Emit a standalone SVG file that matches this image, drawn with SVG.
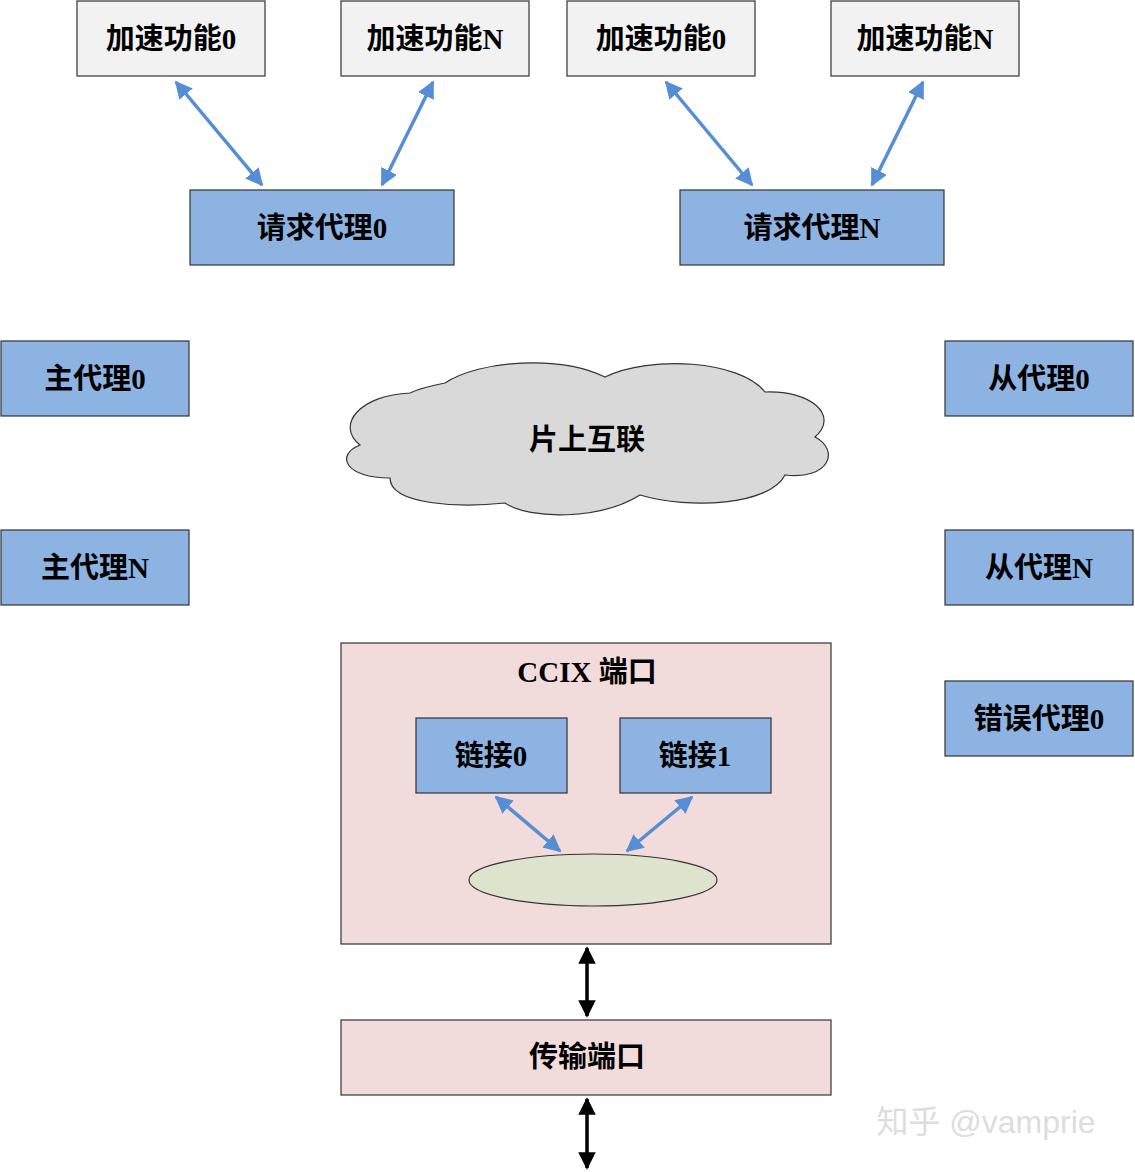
<svg xmlns="http://www.w3.org/2000/svg" width="1135" height="1172" viewBox="0 0 1135 1172">
<style>
.g{fill:#f2f2f2;stroke:#333;stroke-width:1.2}
.b{fill:#8db3e2;stroke:#333;stroke-width:1.2}
.p{fill:#f2dcdb;stroke:#333;stroke-width:1.2}
text{font-family:"Liberation Serif","Noto Sans CJK SC",serif;font-weight:bold;font-size:29px;fill:#000;text-anchor:middle;dominant-baseline:central}
.bl{stroke:#558ed5;stroke-width:3.5;fill:none;marker-start:url(#ab);marker-end:url(#ab)}
.bk{stroke:#000;stroke-width:3.5;fill:none;marker-start:url(#ak);marker-end:url(#ak)}
</style>
<defs>
<marker id="ab" viewBox="0 0 10 10" refX="9" refY="5" markerWidth="5" markerHeight="5" orient="auto-start-reverse"><path d="M0,0L10,5L0,10z" fill="#558ed5"/></marker>
<marker id="ak" viewBox="0 0 10 10" refX="9" refY="5" markerWidth="5" markerHeight="5" orient="auto-start-reverse"><path d="M0,0L10,5L0,10z" fill="#000"/></marker>
</defs>
<rect width="1135" height="1172" fill="#fff"/>
<g id="acc0"><rect class="g" x="77" y="1" width="188" height="75"/><text x="171" y="39">加速功能0</text></g>
<g id="accN"><rect class="g" x="341" y="1" width="188" height="75"/><text x="435" y="39">加速功能N</text></g>
<g id="acc0b"><rect class="g" x="567" y="1" width="188" height="75"/><text x="661" y="39">加速功能0</text></g>
<g id="accNb"><rect class="g" x="831" y="1" width="188" height="75"/><text x="925" y="39">加速功能N</text></g>
<g id="req0"><rect class="b" x="190" y="190" width="264" height="75"/><text x="322" y="228">请求代理0</text></g>
<g id="reqN"><rect class="b" x="680" y="190" width="264" height="75"/><text x="812" y="228">请求代理N</text></g>
<g id="home0"><rect class="b" x="1" y="341" width="188" height="75"/><text x="95" y="379">主代理0</text></g>
<g id="homeN"><rect class="b" x="1" y="530" width="188" height="75"/><text x="95" y="568">主代理N</text></g>
<g id="slave0"><rect class="b" x="945" y="341" width="188" height="75"/><text x="1039" y="379">从代理0</text></g>
<g id="slaveN"><rect class="b" x="945" y="530" width="188" height="75"/><text x="1039" y="568">从代理N</text></g>
<g id="err0"><rect class="b" x="945" y="681" width="188" height="75"/><text x="1039" y="719">错误代理0</text></g>
<g id="noc"><path d="M445,383 C480,360 560,355 605,377 C650,355 740,360 765,392 C810,390 840,415 815,437 C840,450 830,480 785,475 C770,505 690,510 640,495 C600,520 530,520 505,503 C460,508 390,505 390,478 C345,478 335,455 360,445 C335,425 360,395 410,393 C420,388 435,385 445,383Z" fill="#d9d9d9" stroke="#333" stroke-width="1.2"/><text x="587" y="440">片上互联</text></g>
<g id="ccix"><rect class="p" x="341" y="643" width="490" height="301"/><text x="587" y="672">CCIX 端口</text>
<g id="link0"><rect class="b" x="416" y="718" width="151" height="75"/><text x="491" y="756">链接0</text></g>
<g id="link1"><rect class="b" x="620" y="718" width="151" height="75"/><text x="695" y="756">链接1</text></g>
<ellipse id="sw" cx="593" cy="880" rx="124" ry="26" fill="#dde3cc" stroke="#333" stroke-width="1.2"/></g>
<g id="trans"><rect class="p" x="341" y="1020" width="490" height="75"/><text x="587" y="1057">传输端口</text></g>
<g id="connectors">
<line class="bl" x1="176" y1="82" x2="262" y2="185"/>
<line class="bl" x1="433" y1="82" x2="382" y2="185"/>
<line class="bl" x1="666" y1="82" x2="752" y2="185"/>
<line class="bl" x1="923" y1="82" x2="872" y2="185"/>
<line class="bl" x1="496" y1="797" x2="560" y2="851"/>
<line class="bl" x1="692" y1="797" x2="627" y2="851"/>
<line class="bk" x1="587" y1="948" x2="587" y2="1016"/>
<line class="bk" x1="587" y1="1099" x2="587" y2="1168"/>
</g>
<text x="986" y="1122" style="font-family:'Liberation Sans','Noto Sans CJK SC',sans-serif;font-weight:normal;font-size:32px;fill:#dddddd">知乎 @vamprie</text>
</svg>
